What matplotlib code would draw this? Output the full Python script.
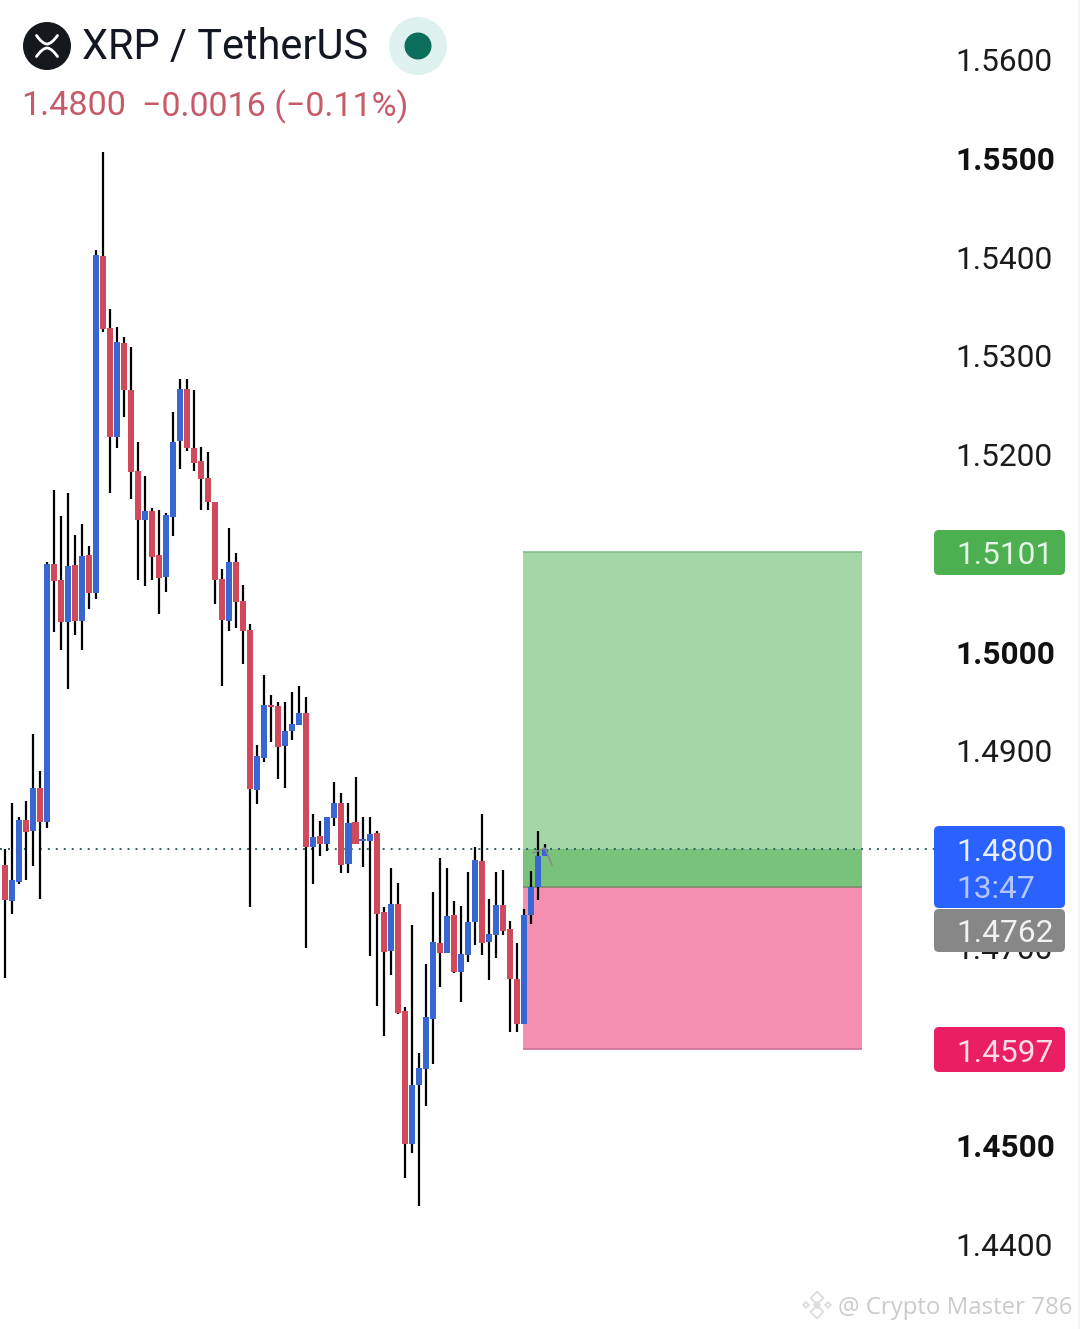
import numpy as np
import matplotlib
matplotlib.use("Agg")
import matplotlib.pyplot as plt
from matplotlib.patches import Circle, FancyBboxPatch, PathPatch, Rectangle
from matplotlib.path import Path

plt.rcParams['font.family'] = ['Roboto', 'DejaVu Sans']

opens = [1.4784, 1.4748, 1.4767, 1.4830, 1.4818, 1.4862, 1.4828, 1.5089, 1.5073, 1.5030,
         1.5088, 1.5031, 1.5098, 1.5060, 1.5401, 1.5328, 1.5218, 1.5313, 1.5265, 1.5183,
         1.5134, 1.5143, 1.5098, 1.5076, 1.5137, 1.5214, 1.5266, 1.5207, 1.5193, 1.5176,
         1.5152, 1.5074, 1.5031, 1.5091, 1.5051, 1.5022, 1.4860, 1.4892, 1.4946, 1.4945,
         1.4905, 1.4920, 1.4926, 1.4938, 1.4802, 1.4813, 1.4805, 1.4832, 1.4847, 1.4785,
         1.4828, 1.4808, 1.4808, 1.4816, 1.4736, 1.4697, 1.4744, 1.4636, 1.4501, 1.4561,
         1.4577, 1.4628, 1.4705, 1.4695, 1.4733, 1.4676, 1.4693, 1.4726, 1.4788, 1.4706,
         1.4713, 1.4743, 1.4719, 1.4669, 1.4623, 1.4733, 1.4762, 1.4793]
highs = [1.4800, 1.4847, 1.4833, 1.4849, 1.4917, 1.4879, 1.5091, 1.5164, 1.5138, 1.5161,
         1.5118, 1.5129, 1.5107, 1.5407, 1.5506, 1.5347, 1.5329, 1.5319, 1.5309, 1.5213,
         1.5178, 1.5146, 1.5144, 1.5141, 1.5243, 1.5276, 1.5276, 1.5265, 1.5208, 1.5202,
         1.5152, 1.5084, 1.5125, 1.5100, 1.5068, 1.5028, 1.4906, 1.4977, 1.4956, 1.4949,
         1.4949, 1.4959, 1.4965, 1.4954, 1.4836, 1.4829, 1.4833, 1.4868, 1.4857, 1.4847,
         1.4873, 1.4833, 1.4833, 1.4818, 1.4741, 1.4781, 1.4766, 1.4640, 1.4723, 1.4594,
         1.4684, 1.4757, 1.4791, 1.4781, 1.4748, 1.4742, 1.4777, 1.4802, 1.4836, 1.4750,
         1.4777, 1.4779, 1.4727, 1.4705, 1.4739, 1.4778, 1.4818, 1.4805]
lows = [1.4670, 1.4734, 1.4765, 1.4769, 1.4783, 1.4750, 1.4822, 1.5020, 1.5002, 1.4962,
        1.5017, 1.5002, 1.5043, 1.5054, 1.5324, 1.5161, 1.5207, 1.5238, 1.5155, 1.5073,
        1.5067, 1.5073, 1.5038, 1.5061, 1.5117, 1.5185, 1.5203, 1.5183, 1.5144, 1.5144,
        1.5048, 1.4965, 1.5021, 1.5024, 1.4988, 1.4741, 1.4846, 1.4888, 1.4909, 1.4871,
        1.4862, 1.4911, 1.4926, 1.4700, 1.4765, 1.4793, 1.4798, 1.4824, 1.4776, 1.4776,
        1.4805, 1.4782, 1.4692, 1.4641, 1.4611, 1.4673, 1.4633, 1.4467, 1.4492, 1.4439,
        1.4540, 1.4582, 1.4660, 1.4695, 1.4675, 1.4645, 1.4686, 1.4703, 1.4693, 1.4667,
        1.4690, 1.4713, 1.4615, 1.4615, 1.4623, 1.4724, 1.4749, 1.4793]
closes = [1.4749, 1.4769, 1.4830, 1.4817, 1.4862, 1.4828, 1.5089, 1.5072, 1.5030, 1.5087,
          1.5031, 1.5097, 1.5060, 1.5402, 1.5327, 1.5218, 1.5314, 1.5265, 1.5182, 1.5134,
          1.5143, 1.5096, 1.5075, 1.5139, 1.5213, 1.5266, 1.5206, 1.5191, 1.5175, 1.5152,
          1.5073, 1.5032, 1.5091, 1.5050, 1.5021, 1.4861, 1.4894, 1.4946, 1.4944, 1.4904,
          1.4920, 1.4927, 1.4938, 1.4802, 1.4812, 1.4805, 1.4833, 1.4847, 1.4784, 1.4827,
          1.4805, 1.4810, 1.4815, 1.4734, 1.4696, 1.4744, 1.4634, 1.4501, 1.4561, 1.4578,
          1.4630, 1.4706, 1.4695, 1.4732, 1.4676, 1.4694, 1.4726, 1.4789, 1.4705, 1.4714,
          1.4743, 1.4717, 1.4669, 1.4623, 1.4733, 1.4762, 1.4793, 1.4800]

price_ticks = [1.44, 1.45, 1.46, 1.47, 1.48, 1.49, 1.50, 1.51, 1.52, 1.53, 1.54, 1.55, 1.56]
bold_ticks = [1.45, 1.50, 1.55]

last_price = 1.4800
entry = 1.4762
target = 1.5101
stop = 1.4598

BLUE = "#3967d2"
RED = "#d14a5b"

W, H = 1080, 1329
fig = plt.figure(figsize=(W / 100, H / 100), dpi=100, facecolor="white")
ax = fig.add_axes([0, 0, 1, 1])

# bar 0 sits at pixel 5, bars 7.01 px apart; price scale 98.7 px per 0.01
bar_px = 7.01
y_top = 1.56604
ax.set_xlim(-5 / bar_px, (W - 5) / bar_px)
ax.set_ylim(y_top - H / 9870, y_top)
for s in ax.spines.values():
    s.set_visible(False)
ax.set_xticks([])

ax.yaxis.tick_right()
ax.set_yticks(price_ticks)
ax.set_yticklabels(["%.4f" % p for p in price_ticks])
ax.tick_params(axis='y', length=0, pad=-90, labelsize=22.8, labelcolor="#1b1b1b")
for lab, p in zip(ax.get_yticklabels(), price_ticks):
    lab.set_ha('left')
    if p in bold_ticks:
        lab.set_fontweight('bold')
        lab.set_color("#111111")

# position tool boxes
box_l, box_r = 73.9, 122.25
ax.add_patch(Rectangle((box_l, entry), box_r - box_l, target - entry, fc="#a5d6a7", ec="none", zorder=1))
ax.add_patch(Rectangle((box_l, stop), box_r - box_l, entry - stop, fc="#f48fb1", ec="none", zorder=1))
ax.add_patch(Rectangle((box_l, entry), box_r - box_l, last_price - entry, fc="#78c27c", ec="none", zorder=1.1))
ax.hlines(target, box_l, box_r, color="#86c089", lw=1.2, zorder=1.2)
ax.hlines(entry, box_l, box_r, color="#858f72", lw=1.4, zorder=1.2)
ax.hlines(stop, box_l, box_r, color="#d0709a", lw=1.2, zorder=1.2)

# last price line
ax.axhline(last_price, xmin=0, xmax=934 / W, color="#2f6263", lw=1.4, ls=(0, (1, 3.1)), zorder=1.5)

# candles
x = np.arange(len(opens))
o = np.array(opens)
c = np.array(closes)
colors = [BLUE if cc >= oo else RED for oo, cc in zip(o, c)]
ax.vlines(x, lows, highs, color="black", lw=1.6, zorder=2)
ax.bar(x, np.abs(c - o), bottom=np.minimum(o, c), width=0.86, color=colors, zorder=3)

# overlay in pixel coordinates for header and price labels
ui = fig.add_axes([0, 0, 1, 1], zorder=5)
ui.set_xlim(0, W)
ui.set_ylim(H, 0)
ui.axis('off')
ui.patch.set_alpha(0)

ui.plot([533, 545, 552], [853, 848, 865], color="#8a8a8a", lw=1.1, zorder=1)

ui.add_patch(Circle((47, 46), 24, fc="#15181d", ec="none"))
for y0, ym in [(35.5, 44.0), (56.5, 48.0)]:
    verts = [(36.5, y0), (42.5, ym), (47, ym), (51.5, ym), (57.5, y0)]
    ui.add_patch(PathPatch(Path(verts, [Path.MOVETO, Path.CURVE3, Path.CURVE3, Path.CURVE3, Path.CURVE3]),
                           fc="none", ec="white", lw=2.0, capstyle='round'))
ui.text(81.5, 43.5, "XRP / TetherUS", fontsize=29.9, color="#131722", va='center_baseline', ha='left')
ui.add_patch(Circle((418, 46), 29, fc="#dff1ee", ec="none"))
ui.add_patch(Circle((418, 46), 13.5, fc="#0b6e5b", ec="none"))

ui.text(21, 102.5, "1.4800", fontsize=24.6, color="#c75a68", va='center_baseline', ha='left')
ui.text(142, 102.5, "\u22120.0016 (\u22120.11%)", fontsize=24.5, color="#c75a68", va='center_baseline', ha='left')


def price_tag(top, bottom, color):
    ui.add_patch(FancyBboxPatch((934 + 4, top + 4), 131 - 8, bottom - top - 8,
                                boxstyle="round,pad=4,rounding_size=5", fc=color, ec="none", zorder=2))


price_tag(530, 575, "#4caf50")
price_tag(826, 908, "#2962ff")
price_tag(909, 952, "#878787")
price_tag(1027, 1072, "#e91e63")

for ty, txt, col in [(553, "1.5101", "#e4f3e5"), (849.5, "1.4800", "#e6edff"), (887, "13:47", "#b4c8ff"),
                     (931, "1.4762", "#f2f2f2"), (1050, "1.4597", "#fbdbe6")]:
    ui.text(956.5, ty, txt, fontsize=22.8, color=col, va='center_baseline', ha='left', zorder=3)

# watermark
for dx, dy, s in [(0, -7, 9), (-11, 0, 4), (11, 0, 4), (0, 7, 9), (0, 0, 4)]:
    ui.add_patch(Rectangle((817 + dx - s / 2, 1305 + dy - s / 2), s, s, angle=45,
                           rotation_point='center', fc="none", ec="#dcdcdc", lw=1.3))
ui.text(838, 1304.5, "@ Crypto Master 786", family="Open Sans", fontsize=17.3, color="#cbcbcb",
        va='center_baseline', ha='left')

ui.add_patch(Rectangle((1078, 0), 2, H, fc="#f3f3f3", ec="none"))

fig.savefig("out.png", dpi=100, facecolor="white")
